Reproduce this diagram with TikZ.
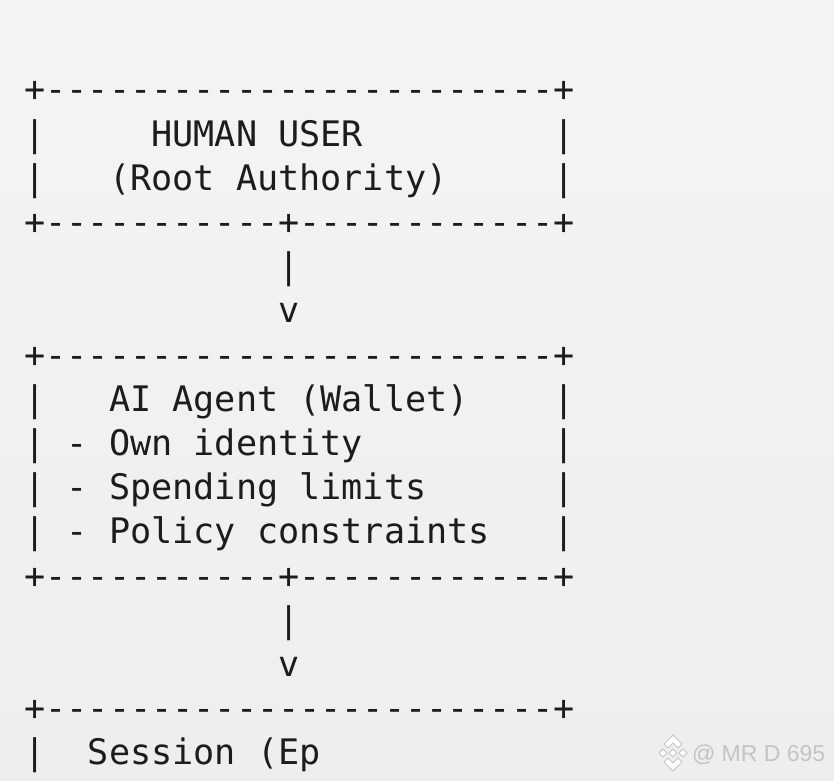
\documentclass[tikz,border=0pt]{standalone}
\usepackage{fontspec}
\setmonofont{DejaVu Sans Mono}
\setsansfont{Liberation Sans}
\definecolor{ink}{HTML}{1C1C1C}
\definecolor{bgtop}{HTML}{F4F4F4}
\definecolor{bgbot}{HTML}{EEEEEE}
\definecolor{wmark}{HTML}{C4C4C4}
\newcommand\asciifont{\ttfamily\fontsize{35.14pt}{44.2pt}\selectfont}
\newcommand\wmfont{\sffamily\fontsize{23pt}{27pt}\selectfont}
\begin{document}
\begin{tikzpicture}[
  ascii/.style={anchor=base west, inner sep=0pt, outer sep=0pt, text=ink, font=\asciifont},
  wmtext/.style={anchor=base west, inner sep=0pt, outer sep=0pt, text=wmark, font=\wmfont},
  wmlogo/.style={fill=white, draw=wmark, line width=0.9pt, line join=round}]
\shade[top color=bgtop, bottom color=bgbot] (0pt,0pt) rectangle (834pt,-780pt);
\useasboundingbox (0pt,0pt) rectangle (834pt,-780pt);
\begin{scope}[x=21.16pt, y=-44.2pt, shift={(24.5pt,-101.8pt)}]
  % box 1
  \node[ascii] (b1top) at (0,0) {+------------------------+};
  \node[ascii] (b1l1) at (0,1) {|};
  \node[ascii] (human) at (6,1) {HUMAN USER};
  \node[ascii] (b1r1) at (25,1) {|};
  \node[ascii] (b1l2) at (0,2) {|};
  \node[ascii] (root) at (4,2) {(Root Authority)};
  \node[ascii] (b1r2) at (25,2) {|};
  \node[ascii] (b1bot) at (0,3) {+-----------+------------+};
  % connector 1
  \node[ascii] (c1bar) at (12,4) {|};
  \node[ascii] (c1v) at (12,5) {v};
  % box 2
  \node[ascii] (b2top) at (0,6) {+------------------------+};
  \node[ascii] (b2l1) at (0,7) {|};
  \node[ascii] (agent) at (4,7) {AI Agent (Wallet)};
  \node[ascii] (b2r1) at (25,7) {|};
  \node[ascii] (b2l2) at (0,8) {|};
  \node[ascii] (ident) at (2,8) {- Own identity};
  \node[ascii] (b2r2) at (25,8) {|};
  \node[ascii] (b2l3) at (0,9) {|};
  \node[ascii] (spend) at (2,9) {- Spending limits};
  \node[ascii] (b2r3) at (25,9) {|};
  \node[ascii] (b2l4) at (0,10) {|};
  \node[ascii] (policy) at (2,10) {- Policy constraints};
  \node[ascii] (b2r4) at (25,10) {|};
  \node[ascii] (b2bot) at (0,11) {+-----------+------------+};
  % connector 2
  \node[ascii] (c2bar) at (12,12) {|};
  \node[ascii] (c2v) at (12,13) {v};
  % box 3
  \node[ascii] (b3top) at (0,14) {+------------------------+};
  \node[ascii] (b3l1) at (0,15) {|};
  \node[ascii] (session) at (3,15) {Session (Ep};
\end{scope}
% watermark
\begin{scope}[shift={(673pt,-753pt)}, x=1pt, y=1pt]
  \path[wmlogo] (0,4) -- (4,0) -- (0,-4) -- (-4,0) -- cycle;
  \path[wmlogo] (-10,4) -- (-6,0) -- (-10,-4) -- (-14,0) -- cycle;
  \path[wmlogo] (10,4) -- (14,0) -- (10,-4) -- (6,0) -- cycle;
  \path[wmlogo] (-9,9) -- (0,18) -- (9,9) -- (5,5) -- (0,10) -- (-5,5) -- cycle;
  \path[wmlogo] (-9,-9) -- (0,-18) -- (9,-9) -- (5,-5) -- (0,-10) -- (-5,-5) -- cycle;
\end{scope}
\node[wmtext] (wm) at (692pt,-761pt) {@ MR D 695};
\end{tikzpicture}
\end{document}
